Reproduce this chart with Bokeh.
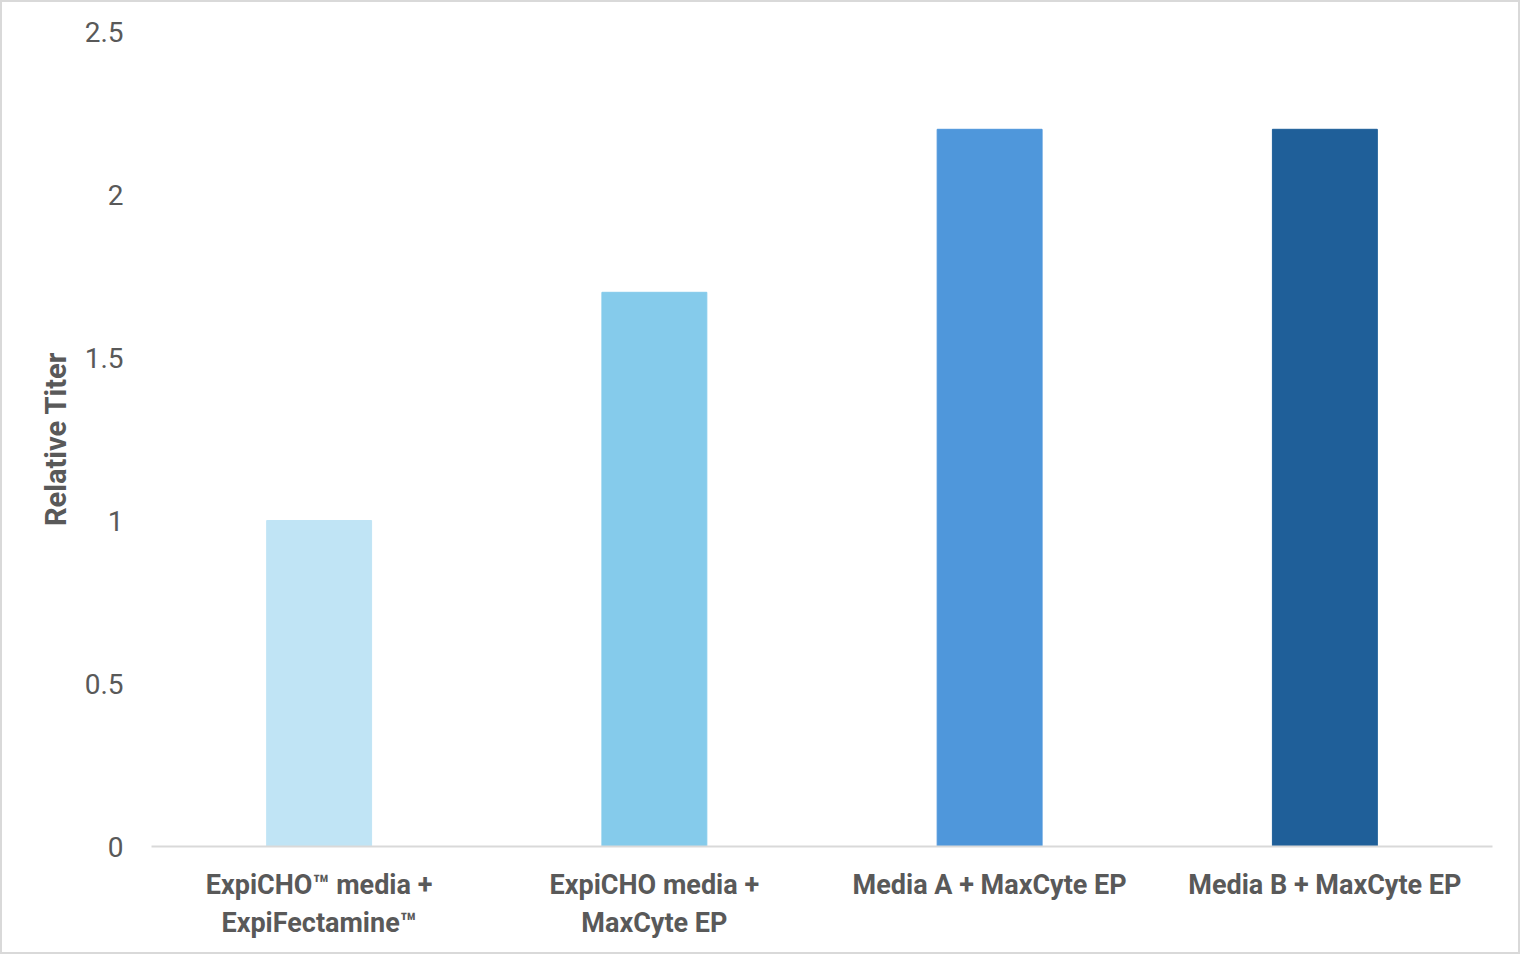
from bokeh.plotting import figure
from bokeh.models import ColumnDataSource, FixedTicker, Range1d
from bokeh.embed import file_html
from bokeh.resources import INLINE

categories = ["ExpiCHO™ media +\nExpiFectamine™", "ExpiCHO media +\nMaxCyte EP",
              "Media A + MaxCyte EP", "Media B + MaxCyte EP"]
values = [1.0, 1.7, 2.2, 2.2]
colors = ["#c0e4f5", "#85cbeb", "#4f97db", "#1f5f99"]
y_ticks = [0, 0.5, 1, 1.5, 2, 2.5]

src = ColumnDataSource(dict(cat=categories, val=values, col=colors))

p = figure(x_range=categories, y_range=Range1d(0, 2.5), width=1520, height=954,
           output_backend="svg", toolbar_location=None,
           min_border_left=149, min_border_right=30, min_border_top=29, min_border_bottom=110)
p.vbar(x="cat", top="val", width=0.313, color="col", source=src)

p.outline_line_color = None
p.xgrid.grid_line_color = None
p.ygrid.grid_line_color = None
p.styles = {"border": "2px solid #d9d9d9", "box-sizing": "border-box"}

p.yaxis.ticker = FixedTicker(ticks=y_ticks)
p.yaxis.axis_line_color = None
p.yaxis.major_tick_line_color = None
p.yaxis.minor_tick_line_color = None
p.yaxis.major_tick_out = 0
p.yaxis.major_tick_in = 0
p.yaxis.major_label_text_font = "Roboto"
p.yaxis.major_label_text_font_size = "28px"
p.yaxis.major_label_text_color = "#595959"
p.yaxis.major_label_standoff = 28
p.yaxis.axis_label = "Relative Titer"
p.yaxis.axis_label_text_font = "Roboto"
p.yaxis.axis_label_text_font_style = "bold"
p.yaxis.axis_label_text_font_size = "29px"
p.yaxis.axis_label_text_color = "#595959"
p.yaxis.axis_label_standoff = 9

p.xaxis.axis_line_color = "#d9d9d9"
p.xaxis.axis_line_width = 2
p.xaxis.major_tick_line_color = None
p.xaxis.minor_tick_line_color = None
p.xaxis.major_tick_out = 0
p.xaxis.major_tick_in = 0
p.xaxis.major_label_text_font = "Roboto"
p.xaxis.major_label_text_font_style = "bold"
p.xaxis.major_label_text_font_size = "27px"
p.xaxis.major_label_text_color = "#595959"
p.xaxis.major_label_standoff = 22
p.x_range.range_padding = 0

open("out.html", "w").write(file_html(p, INLINE))
